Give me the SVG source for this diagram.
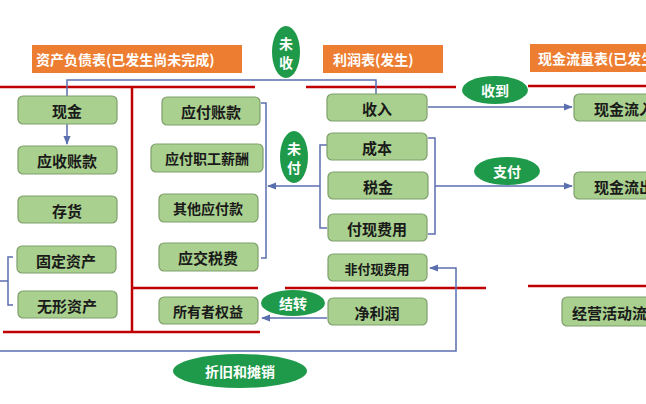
<svg xmlns="http://www.w3.org/2000/svg" width="646" height="404" viewBox="0 0 646 404">
<defs>
<marker id="a" viewBox="0 0 10 10" refX="9" refY="5" markerWidth="6" markerHeight="6" orient="auto"><path d="M0,1 L10,5 L0,9 z" fill="#5b6fae"/></marker>
<style>
.b{fill:#a9d08e;stroke:#7f9f6c;stroke-width:1.2}
.t{font-family:"Noto Sans CJK SC",sans-serif;font-size:15px;fill:#1a1a1a;text-anchor:middle;dominant-baseline:central;font-weight:bold}
.h{fill:#ed7d31}
.ht{font-family:"Noto Sans CJK SC",sans-serif;font-size:14px;fill:#fff;dominant-baseline:central;font-weight:bold}
.e{fill:#1f9a4a}
.et{font-family:"Noto Sans CJK SC",sans-serif;font-size:14px;fill:#fff;text-anchor:middle;dominant-baseline:central;font-weight:bold}
.r{stroke:#c00000;stroke-width:2.5;fill:none}
.l{stroke:#5b6fae;stroke-width:1.5;fill:none}
</style>
</defs>
<rect width="646" height="404" fill="#fff"/>
<g id="headers">
<rect class="h" x="32" y="45" width="210" height="28"/><text class="ht" x="36" y="59">资产负债表(已发生尚未完成)</text>
<rect class="h" x="323" y="45" width="120" height="28"/><text class="ht" x="333" y="59">利润表(发生)</text>
<rect class="h" x="530" y="44" width="130" height="28"/><text class="ht" x="538" y="58">现金流量表(已发生)</text>
</g>
<g id="lines">
<path class="r" d="M0,87 H255 M306,87 H456 M528,86 H646 M132,87 V332 M132,288 H258 M285,288 H486 M528,286 H646 M3,332 H260"/>
</g>
<g id="connectors">
<path class="l" d="M376,94 V80 H67 V144" marker-end="url(#a)"/>
<path class="l" d="M261,103 H266 V258 H261 M318,186 H268" marker-end="url(#a)"/>
<path class="l" d="M327,145 H320 V228 H327 M320,186 H318"/>
<path class="l" d="M428,107 H572" marker-end="url(#a)"/>
<path class="l" d="M428,138 H435 V234 H428 M435,186 H572" marker-end="url(#a)"/>
<path class="l" d="M327,318 H262" marker-end="url(#a)"/>
<path class="l" d="M0,351 H456 V268 H430" marker-end="url(#a)"/>
<path class="l" d="M13,257 H8 V305 H13 M8,281 H0" stroke-dasharray="none"/>
</g>
<g id="n1"><rect class="b" x="18" y="96" width="99" height="28" rx="5"/><text class="t" x="67" y="110">现金</text></g>
<g id="n2"><rect class="b" x="18" y="146" width="99" height="28" rx="5"/><text class="t" x="67" y="160">应收账款</text></g>
<g id="n3"><rect class="b" x="18" y="196" width="99" height="27" rx="5"/><text class="t" x="67" y="210">存货</text></g>
<g id="n4"><rect class="b" x="17" y="246" width="99" height="27" rx="5"/><text class="t" x="66" y="260">固定资产</text></g>
<g id="n5"><rect class="b" x="18" y="291" width="99" height="27" rx="5"/><text class="t" x="67" y="305">无形资产</text></g>
<g id="n6"><rect class="b" x="162" y="97" width="98" height="28" rx="5"/><text class="t" x="211" y="111">应付账款</text></g>
<g id="n7"><rect class="b" x="151" y="144" width="112" height="28" rx="5"/><text class="t" x="207" y="158" style="font-size:14px">应付职工薪酬</text></g>
<g id="n8"><rect class="b" x="159" y="194" width="99" height="28" rx="5"/><text class="t" x="208" y="208" style="font-size:14px">其他应付款</text></g>
<g id="n9"><rect class="b" x="159" y="243" width="99" height="28" rx="5"/><text class="t" x="208" y="257">应交税费</text></g>
<g id="n10"><rect class="b" x="159" y="297" width="99" height="27" rx="5"/><text class="t" x="208" y="311" style="font-size:14px">所有者权益</text></g>
<g id="n11"><rect class="b" x="327" y="94" width="100" height="27" rx="5"/><text class="t" x="377" y="108">收入</text></g>
<g id="n12"><rect class="b" x="327" y="133" width="100" height="27" rx="5"/><text class="t" x="377" y="147">成本</text></g>
<g id="n13"><rect class="b" x="328" y="172" width="100" height="27" rx="5"/><text class="t" x="378" y="186">税金</text></g>
<g id="n14"><rect class="b" x="328" y="214" width="99" height="27" rx="5"/><text class="t" x="377" y="228">付现费用</text></g>
<g id="n15"><rect class="b" x="328" y="254" width="99" height="27" rx="5"/><text class="t" x="377" y="268" style="font-size:13px">非付现费用</text></g>
<g id="n16"><rect class="b" x="328" y="298" width="99" height="27" rx="5"/><text class="t" x="377" y="312">净利润</text></g>
<g id="n17"><rect class="b" x="574" y="94" width="100" height="27" rx="5"/><text class="t" x="624" y="108">现金流入</text></g>
<g id="n18"><rect class="b" x="574" y="172" width="100" height="27" rx="5"/><text class="t" x="624" y="186">现金流出</text></g>
<g id="n19"><rect class="b" x="562" y="297" width="110" height="29" rx="5"/><text class="t" x="617" y="312">经营活动流量</text></g>
<g id="e1"><ellipse class="e" cx="286" cy="52" rx="14" ry="26"/><text class="et" x="286" y="43">未</text><text class="et" x="286" y="62">收</text></g>
<g id="e2"><ellipse class="e" cx="294" cy="157" rx="14" ry="26"/><text class="et" x="294" y="148">未</text><text class="et" x="294" y="167">付</text></g>
<g id="e3"><ellipse class="e" cx="495" cy="90" rx="33" ry="14"/><text class="et" x="495" y="90">收到</text></g>
<g id="e4"><ellipse class="e" cx="507" cy="171" rx="33" ry="14"/><text class="et" x="507" y="171">支付</text></g>
<g id="e5"><ellipse class="e" cx="293" cy="303" rx="32" ry="13"/><text class="et" x="293" y="303">结转</text></g>
<g id="e6"><ellipse class="e" cx="240" cy="371" rx="67" ry="17"/><text class="et" x="240" y="371">折旧和摊销</text></g>
</svg>
